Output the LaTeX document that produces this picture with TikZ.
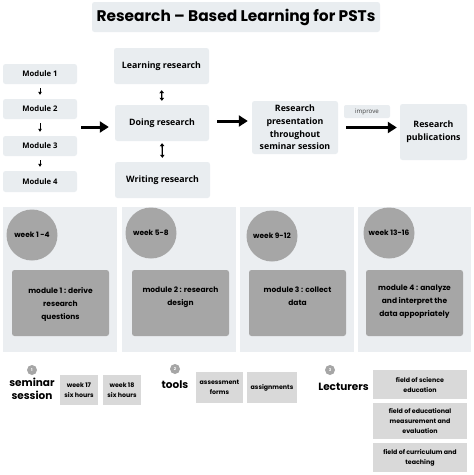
\documentclass[tikz,border=0pt]{standalone}
\usepackage{fontspec}
\setmainfont{Poppins}
\newfontfamily\boxfont{Open Sans}
\usetikzlibrary{arrows.meta}
\definecolor{topfill}{HTML}{E9EDF0}
\definecolor{panelfill}{HTML}{EBEEF1}
\definecolor{darkfill}{HTML}{A6A6A6}
\definecolor{midfill}{HTML}{D9D9D9}
\begin{document}
\begin{tikzpicture}[x=1pt,y=-1pt,
  topbox/.style={fill=topfill, rounded corners=2.5pt, align=center, inner sep=0pt, font=\boxfont\fontsize{8.8}{12.6}\selectfont\bfseries},
  modbox/.style={topbox, minimum width=74pt, font=\boxfont\fontsize{7.7}{8}\selectfont\bfseries},
  panelbox/.style={fill=panelfill, inner sep=0pt},
  innerbox/.style={fill=darkfill, rounded corners=2.5pt, inner sep=0pt},
  weekcirc/.style={circle, fill=darkfill, minimum size=51pt, inner sep=0pt, font=\fontsize{7.4}{8}\selectfont\bfseries},
  intext/.style={align=center, inner sep=0pt, anchor=north, font=\fontsize{7.5}{13}\selectfont\bfseries},
  smallbox/.style={fill=midfill, inner sep=0pt, align=center, font=\fontsize{6.3}{10}\selectfont\bfseries},
  numcirc/.style={circle, fill=darkfill, minimum size=10pt, inner sep=0pt, text=white, font=\fontsize{4}{4}\selectfont\bfseries},
  bigtext/.style={align=center, inner sep=0pt, font=\fontsize{10.5}{13}\selectfont\bfseries},
  bigarr/.style={line width=3pt, -{Triangle[length=9pt,width=11pt]}},
  smallarr/.style={line width=0.8pt, -{Triangle[length=3pt,width=3.5pt]}},
  dblarr/.style={line width=1.3pt, {Triangle[length=3pt,width=4.5pt]}-{Triangle[length=3pt,width=4.5pt]}}
]
\useasboundingbox (0,0) rectangle (474,475);
\fill[white] (0,0) rectangle (474,475);

% title
\node[topbox, minimum width=288pt, minimum height=30pt, font=\fontsize{15.4}{16}\selectfont\bfseries] (title) at (236,17) {Research -- Based Learning for PSTs};

% modules
\node[modbox, minimum height=20pt] (m1) at (40,74) {Module 1};
\node[modbox, minimum height=20pt] (m2) at (40,109) {Module 2};
\node[modbox, minimum height=20pt] (m3) at (40,146) {Module 3};
\node[modbox, minimum height=21pt] (m4) at (40,181.5) {Module 4};
\draw[smallarr, shorten <=4pt, shorten >=4pt] (m1.south) -- (m2.north);
\draw[smallarr, shorten <=4pt, shorten >=4pt] (m2.south) -- (m3.north);
\draw[smallarr, shorten <=4pt, shorten >=4pt] (m3.south) -- (m4.north);

% research boxes
\node[topbox, minimum width=95pt, minimum height=36pt] (learn) at (161.5,66) {Learning research};
\node[topbox, minimum width=94pt, minimum height=36pt] (doing) at (162,123) {Doing research};
\node[topbox, minimum width=95pt, minimum height=36pt] (writing) at (162.5,180) {Writing research};
\draw[dblarr, shorten <=6pt, shorten >=4pt] (learn.south) -- (doing.north);
\draw[dblarr, shorten <=2pt, shorten >=4pt] (doing.south) -- (writing.north);

\coordinate (modout) at (81,127);
\draw[bigarr, shorten >=6pt] (modout) -- (modout -| doing.west);

\node[topbox, minimum width=86pt, minimum height=53pt] (pres) at (295,127.5) {Research\\presentation\\throughout\\seminar session};
\draw[bigarr, shorten <=8pt, shorten >=4pt] ([yshift=2pt]doing.east) -- ([yshift=2pt]doing.east -| pres.west);

\node[fill=topfill, rounded corners=2pt, minimum width=46pt, minimum height=13pt, inner sep=0pt, font=\boxfont\fontsize{6.2}{6}\selectfont, text=black!75] (improve) at (367,111.5) {improve};
\node[topbox, minimum width=67pt, minimum height=56pt] (pub) at (433.5,132) {Research\\publications};
\draw[bigarr, shorten <=8pt, shorten >=3pt] (pres.east) -- (pres.east -| pub.west);

% week panels
\node[panelbox, minimum width=114pt, minimum height=145pt] (p1) at (60,279.5) {};
\node[panelbox, minimum width=114pt, minimum height=145pt] (p2) at (179,279.5) {};
\node[panelbox, minimum width=114pt, minimum height=145pt] (p3) at (297,279.5) {};
\node[panelbox, minimum width=113pt, minimum height=145pt] (p4) at (414.5,279.5) {};

\node[weekcirc] (c1) at (32,235) {week 1 -4};
\node[weekcirc] (c2) at (151,233) {week 5-8};
\node[weekcirc] (c3) at (272,236) {week 9-12};
\node[weekcirc] (c4) at (389,233) {week 13-16};

\node[innerbox, minimum width=97pt, minimum height=66pt] (b1) at (60.5,303) {};
\node[innerbox, minimum width=97pt, minimum height=66pt] (b2) at (180.5,303) {};
\node[innerbox, minimum width=97pt, minimum height=66pt] (b3) at (297.5,303) {};
\node[innerbox, minimum width=97pt, minimum height=66pt] (b4) at (414.5,303) {};
\node[intext] (t1) at (60.5,287) {module 1 : derive\\research\\questions};
\node[intext] (t2) at (180.5,287) {module 2 : research\\design};
\node[intext] (t3) at (297.5,287) {module 3 : collect\\data};
\node[intext] (t4) at (414.5,285) {module 4 : analyze\\and interpret the\\data appopriately};

% bottom
\node[numcirc] (n1) at (32,370) {1};
\node[bigtext, anchor=north] (sem) at (32,378) {seminar\\session};
\node[smallbox, minimum width=38pt, minimum height=30pt] (w17) at (79,390) {week 17\\six hours};
\node[smallbox, minimum width=38pt, minimum height=30pt] (w18) at (122,390) {week 18\\six hours};

\node[numcirc] (n2) at (175,369) {2};
\node[bigtext] (tools) at (175,385) {tools};
\node[smallbox, minimum width=47pt, minimum height=31pt] (assess) at (219.5,387.5) {assessment\\forms};
\node[smallbox, minimum width=50pt, minimum height=31pt] (assign) at (272,387.5) {assignments};

\node[numcirc] (n3) at (330,370) {3};
\node[bigtext] (lect) at (343.5,387) {Lecturers};
\node[smallbox, minimum width=94pt, minimum height=29pt] (f1) at (420,384.5) {field of science\\education};
\node[smallbox, minimum width=94pt, minimum height=36pt] (f2) at (420,421) {field of educational\\measurement and\\evaluation};
\node[smallbox, minimum width=94pt, minimum height=29pt] (f3) at (420,457.5) {field of curriculum and\\teaching};
\end{tikzpicture}
\end{document}
